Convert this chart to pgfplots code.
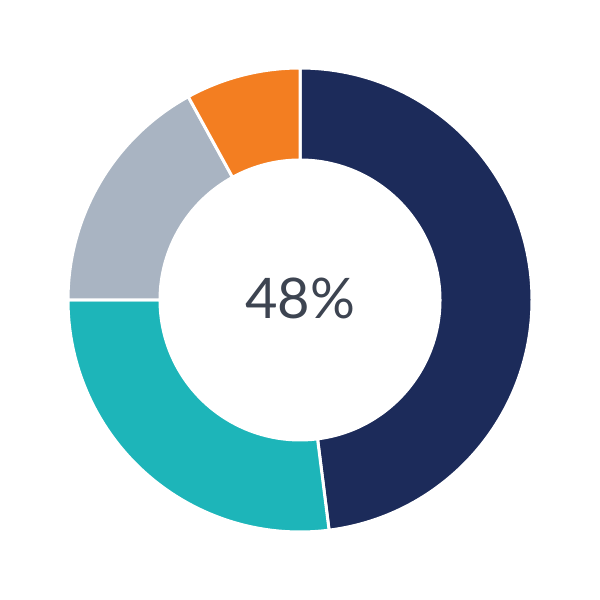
\documentclass[border=0pt]{standalone}
\usepackage{pgfplots}
\usepackage{pgfplotstable}
\usepackage{fontspec}
\setmainfont{Lato}
\pgfplotsset{compat=1.18}
\definecolor{cnavy}{HTML}{1C2B5A}
\definecolor{cteal}{HTML}{1DB5B9}
\definecolor{cgrey}{HTML}{A9B4C2}
\definecolor{corange}{HTML}{F37E21}
\definecolor{ctext}{HTML}{3D4451}
\pgfplotstableread{
share
48
27
17
8
}\donutdata
\begin{document}
\begin{tikzpicture}
\begin{axis}[hide axis, scale only axis, width=300pt, height=300pt,
  xmin=-300, xmax=300, ymin=-300, ymax=300]
\addplot[draw=none] coordinates {(-300,-300) (300,300)};
\coordinate (O) at (axis cs:0,0);
\end{axis}
\gdef\startang{90}
\foreach \i/\c in {0/cnavy,1/cteal,2/cgrey,3/corange}{
  \pgfplotstablegetelem{\i}{share}\of\donutdata
  \pgfmathsetmacro\endang{\startang-3.6*\pgfplotsretval}
  \filldraw[fill=\c, draw=white, line width=1.5pt, shift={(O)}]
    (\startang:116pt) arc[start angle=\startang, end angle=\endang, radius=116pt]
    -- (\endang:70pt) arc[start angle=\endang, end angle=\startang, radius=70pt] -- cycle;
  \xdef\startang{\endang}
}
\node[text=ctext, font=\fontsize{28}{31}\selectfont, inner sep=0pt] at ([yshift=0.8pt]O) {48\%};
\end{tikzpicture}
\end{document}
